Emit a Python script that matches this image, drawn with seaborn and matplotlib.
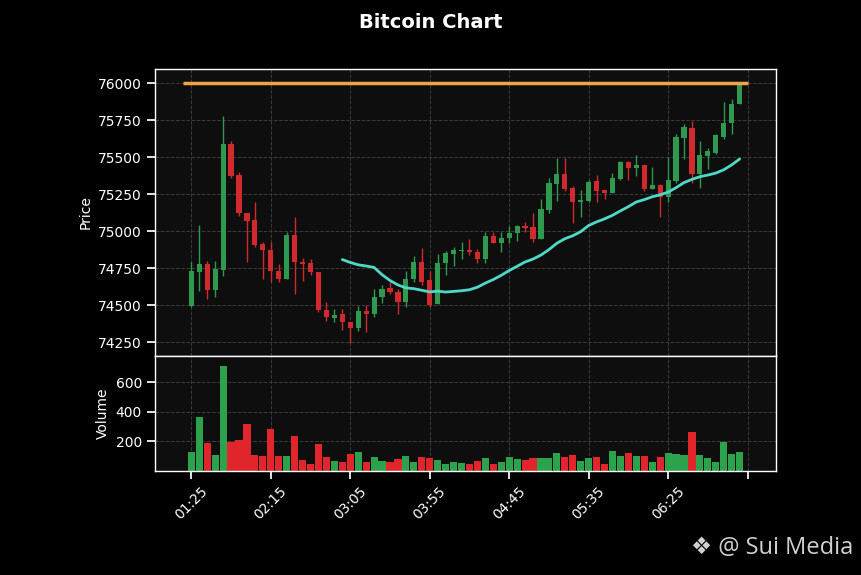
import numpy as np
import pandas as pd
import seaborn as sns
import matplotlib.pyplot as plt

# Nến 5 phút
open_ = [74495, 74721, 74777, 74604, 74740, 75588, 75378, 75126, 75076, 74912,
         74874, 74728, 74676, 74973, 74793, 74784, 74726, 74469, 74412, 74439,
         74383, 74343, 74457, 74439, 74552, 74613, 74590, 74523, 74676, 74793,
         74671, 74507, 74784, 74845, 74867, 74874, 74860, 74811, 74968, 74919,
         74953, 74986, 75036, 75025, 74946, 75144, 75318, 75385, 75295, 75199,
         75205, 75340, 75277, 75261, 75351, 75471, 75430, 75446, 75284, 75311,
         75228, 75340, 75633, 75701, 75385, 75509, 75532, 75640, 75734, 75863]
high = [74790, 75043, 74799, 74795, 75779, 75610, 75401, 75126, 75194, 74924,
        74924, 74777, 74991, 75093, 74818, 74811, 74726, 74523, 74473, 74473,
        74383, 74495, 74500, 74608, 74635, 74653, 74608, 74732, 74833, 74883,
        74732, 74845, 74867, 74896, 74924, 74950, 74878, 74995, 74991, 74991,
        75036, 75043, 75059, 75122, 75221, 75363, 75498, 75493, 75306, 75279,
        75347, 75380, 75277, 75396, 75475, 75475, 75513, 75450, 75437, 75318,
        75505, 75655, 75723, 75745, 75610, 75565, 75655, 75874, 75896, 76009]
low = [74486, 74597, 74540, 74552, 74698, 75363, 75103, 74789, 74890, 74676,
       74658, 74653, 74676, 74574, 74665, 74703, 74451, 74394, 74383, 74333,
       74243, 74326, 74318, 74417, 74513, 74574, 74439, 74485, 74653, 74635,
       74485, 74507, 74703, 74761, 74811, 74838, 74784, 74784, 74919, 74856,
       74919, 74934, 74991, 74924, 74946, 75126, 75205, 75272, 75054, 75093,
       75199, 75199, 75221, 75257, 75345, 75347, 75374, 75272, 75284, 75099,
       75194, 75329, 75491, 75324, 75295, 75419, 75520, 75622, 75655, 75863]
close = [74732, 74777, 74604, 74743, 75588, 75374, 75122, 75070, 74907, 74872,
         74728, 74676, 74973, 74789, 74777, 74721, 74469, 74417, 74435, 74383,
         74343, 74457, 74439, 74552, 74608, 74586, 74523, 74676, 74793, 74658,
         74500, 74784, 74851, 74874, 74870, 74856, 74811, 74968, 74923, 74957,
         74986, 75036, 75020, 74946, 75149, 75324, 75385, 75284, 75199, 75210,
         75336, 75272, 75255, 75358, 75471, 75426, 75446, 75284, 75311, 75228,
         75345, 75637, 75705, 75385, 75514, 75543, 75649, 75734, 75863, 76005]
volume = [129, 367, 189, 107, 711, 193, 207, 315, 107, 102,
          282, 104, 100, 235, 73, 44, 182, 93, 67, 60,
          115, 129, 62, 95, 67, 62, 82, 104, 62, 95,
          89, 73, 49, 60, 56, 49, 67, 89, 44, 60,
          93, 82, 73, 84, 89, 89, 120, 93, 107, 67,
          84, 93, 49, 133, 100, 120, 100, 100, 62, 93,
          124, 115, 109, 262, 107, 89, 60, 195, 115, 129]
tick_labels = ['01:25', '02:15', '03:05', '03:55', '04:45', '05:35', '06:25', '']
resistance = 76000

df = pd.DataFrame({'open': open_, 'high': high, 'low': low, 'close': close, 'volume': volume})
df['idx'] = np.arange(len(df))
df['dir'] = np.where(df['close'] >= df['open'], 'up', 'down')
df['ma20'] = df['close'].rolling(20).mean()

green, red = '#2f9a4f', '#d12a2e'
vol_pal = {'up': '#2ca24d', 'down': '#e0262b'}

sns.set_theme(style='dark', rc={
    'figure.facecolor': 'black',
    'axes.facecolor': '#0e0e0e',
    'axes.edgecolor': 'white',
    'axes.labelcolor': 'white',
    'axes.linewidth': 1.0,
    'text.color': 'white',
    'xtick.color': 'white',
    'ytick.color': 'white',
    'xtick.bottom': True,
    'ytick.left': True,
    'xtick.labelsize': 10,
    'ytick.labelsize': 10,
    'axes.labelsize': 10,
    'grid.color': '#3c3c3c',
    'grid.linestyle': '--',
    'grid.linewidth': 0.7,
})
plt.rcParams['font.family'] = ['DejaVu Sans']

fig, (ax1, ax2) = plt.subplots(2, 1, sharex=True, figsize=(8.62, 5.75), dpi=100,
                               gridspec_kw={'height_ratios': [2.5, 1], 'hspace': 0})
fig.subplots_adjust(left=0.18, right=0.9, top=0.88, bottom=0.181)

# Nến
colors = [green if d == 'up' else red for d in df['dir']]
ax1.vlines(df['idx'], df['low'], df['high'], color=colors, lw=1)
body = (df['close'] - df['open']).abs().clip(lower=6)
ax1.bar(df['idx'], body, bottom=df[['open', 'close']].min(axis=1),
        width=0.65, color=colors, lw=0)

# MA20
sns.lineplot(data=df, x='idx', y='ma20', color='#4fd8c8', lw=2, ax=ax1)

# Kháng cự
ax1.hlines(resistance, -1, len(df), color='#f2a24a', lw=2.5)

ax1.set_ylabel('Price')
ax1.set_xlabel('')
ax1.grid(True)
ax1.tick_params(axis='x', length=0)

# Khối lượng
sns.barplot(data=df, x='idx', y='volume', hue='dir', palette=vol_pal, dodge=False,
            width=0.9, saturation=1, errorbar=None, legend=False, ax=ax2,
            linewidth=0, edgecolor='none')
ax2.set_ylim(0, 775)
ax2.set_yticks([200, 400, 600])
ax2.set_ylabel('Volume')
ax2.set_xlabel('')
ax2.grid(True)

n = len(df)
ax2.set_xlim(-1 - 0.05 * (n + 1), n + 0.05 * (n + 1))
ax2.set_xticks(range(0, n + 1, 10))
ax2.set_xticklabels(tick_labels, rotation=45)

for ax in (ax1, ax2):
    for s in ax.spines.values():
        s.set_color('white')
        s.set_visible(True)

fig.suptitle('Bitcoin Chart', y=0.977, fontsize=14, fontweight='bold', color='white')
fig.text(0.99, 0.047, '\u2756 @ Sui Media', ha='right', va='center', color='#d0d0d0',
         fontsize=17, family=['Open Sans', 'DejaVu Sans'])

fig.savefig('out.png', dpi=100, facecolor='black')
